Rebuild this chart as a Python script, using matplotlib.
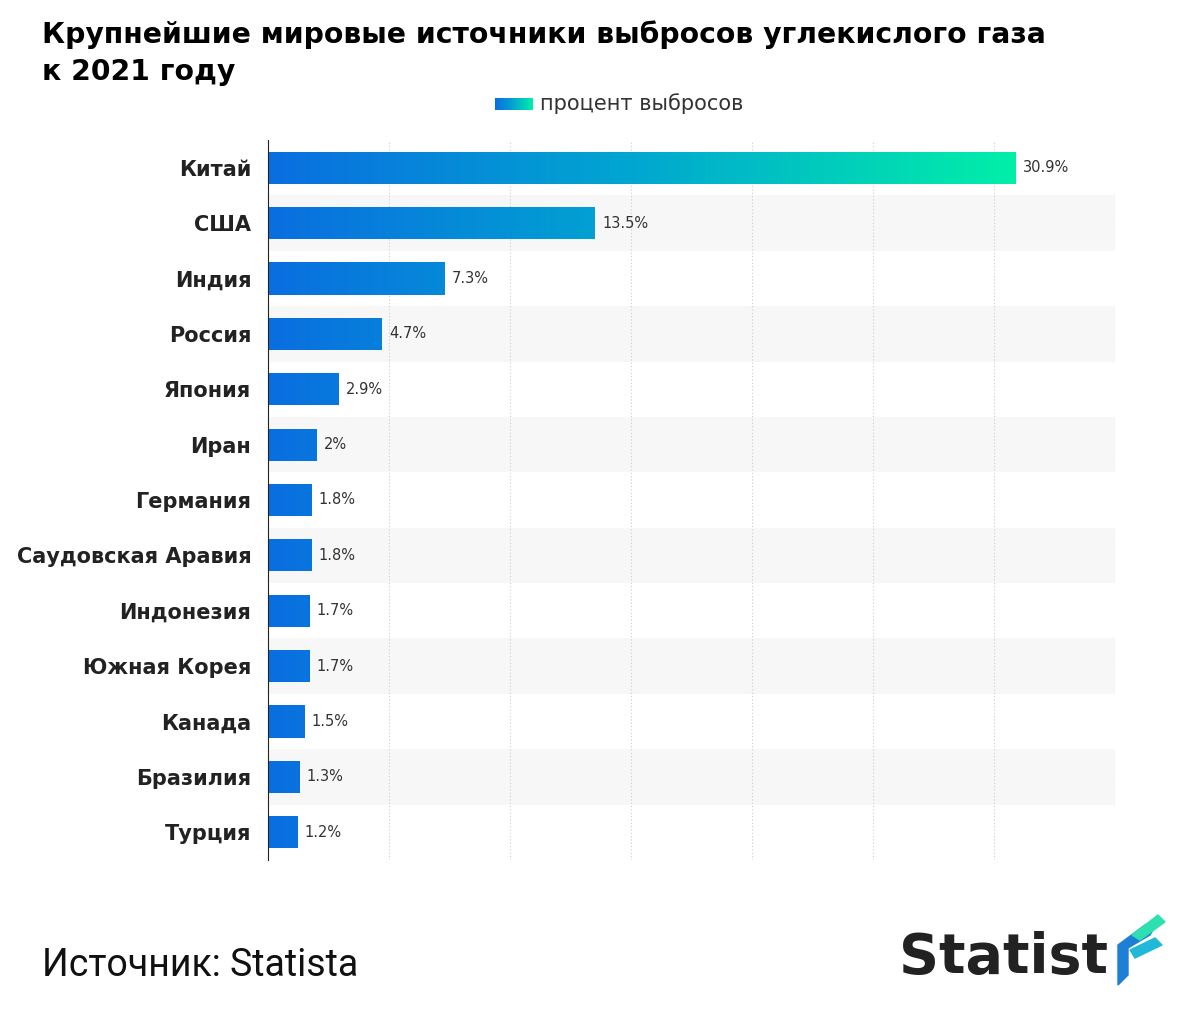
import numpy as np
import matplotlib
matplotlib.use("Agg")
import matplotlib.pyplot as plt
from matplotlib.colors import LinearSegmentedColormap
from matplotlib.patches import Polygon

countries = ["Китай", "США", "Индия", "Россия", "Япония", "Иран", "Германия",
             "Саудовская Аравия", "Индонезия", "Южная Корея", "Канада", "Бразилия", "Турция"]
values = [30.9, 13.5, 7.3, 4.7, 2.9, 2.0, 1.8, 1.8, 1.7, 1.7, 1.5, 1.3, 1.2]
labels = ["30.9%", "13.5%", "7.3%", "4.7%", "2.9%", "2%", "1.8%", "1.8%", "1.7%",
          "1.7%", "1.5%", "1.3%", "1.2%"]

cmap = LinearSegmentedColormap.from_list("g", ["#0a6ee0", "#00a8d0", "#00f0a8"])
W, H = 1200, 1017
fig = plt.figure(figsize=(W / 100, H / 100), dpi=100)
ax = fig.add_axes([268 / W, 1 - 860 / H, (1115 - 268) / W, (860 - 140) / H])
n = len(countries)

for i in range(n):
    if i % 2 == 1:
        ax.axhspan(i - 0.5, i + 0.5, color="#f7f7f7", zorder=0, lw=0)
for x in range(5, 36, 5):
    ax.axvline(x, color="#cccccc", lw=0.8, ls=(0, (1, 2)), zorder=1)

grad = np.linspace(0, 1, 512)[None, :]
for i, (v, lab) in enumerate(zip(values, labels)):
    h = 0.58
    im = ax.imshow(grad, extent=(0, 31, i + h / 2, i - h / 2), cmap=cmap, aspect="auto", zorder=2)
    im.set_clip_path(plt.Rectangle((0, i - h / 2), v, h, transform=ax.transData))
    ax.text(v + 0.3, i, lab, va="center", ha="left", fontsize=10.5, color="#333333", zorder=3)
ax.set_xlim(0, 35)
ax.set_ylim(n - 0.5, -0.5)

ax.set_yticks(range(n))
ax.set_yticklabels(countries, fontsize=15, fontweight="bold", color="#222222")
ax.tick_params(axis="y", length=0, pad=12)
ax.set_xticks([])
for s in ["top", "right", "bottom"]:
    ax.spines[s].set_visible(False)
ax.spines["left"].set_color("#222222")

fig.text(42 / W, 1 - 35 / H, "Крупнейшие мировые источники выбросов углекислого газа",
         fontsize=20.3, fontweight="bold", va="center", ha="left")
fig.text(42 / W, 1 - 72 / H, "к 2021 году", fontsize=20.3, fontweight="bold", va="center", ha="left")

lax = fig.add_axes([495 / W, 1 - 110 / H, 38 / W, 12 / H])
lax.imshow(grad, cmap=cmap, aspect="auto", extent=(0, 1, 0, 1))
lax.axis("off")
fig.text(540 / W, 1 - 104 / H, "процент выбросов", fontsize=15, color="#333333", va="center")

fig.text(42 / W, 1 - 965 / H, "Источник: Statista", fontsize=27, color="#111111", va="center",
         family="Roboto")
fig.text(1108 / W, 1 - 958 / H, "Statist", fontsize=40, fontweight="bold", color="#222222",
         va="center", ha="right")
oax = fig.add_axes([1110 / W, 1 - 990 / H, 60 / W, 80 / H])
oax.set_xlim(0, 60); oax.set_ylim(0, 80); oax.axis("off")
oax.add_patch(Polygon([(8, 5), (8, 45), (35, 65), (50, 72), (40, 55), (18, 42), (18, 15)],
                      color="#1e7fd6"))
oax.add_patch(Polygon([(20, 40), (45, 52), (52, 45), (25, 32)], color="#22b8d8"))
oax.add_patch(Polygon([(22, 55), (48, 75), (55, 68), (30, 50)], color="#2ee0b0"))

fig.savefig("out.png", dpi=100, facecolor="white")
